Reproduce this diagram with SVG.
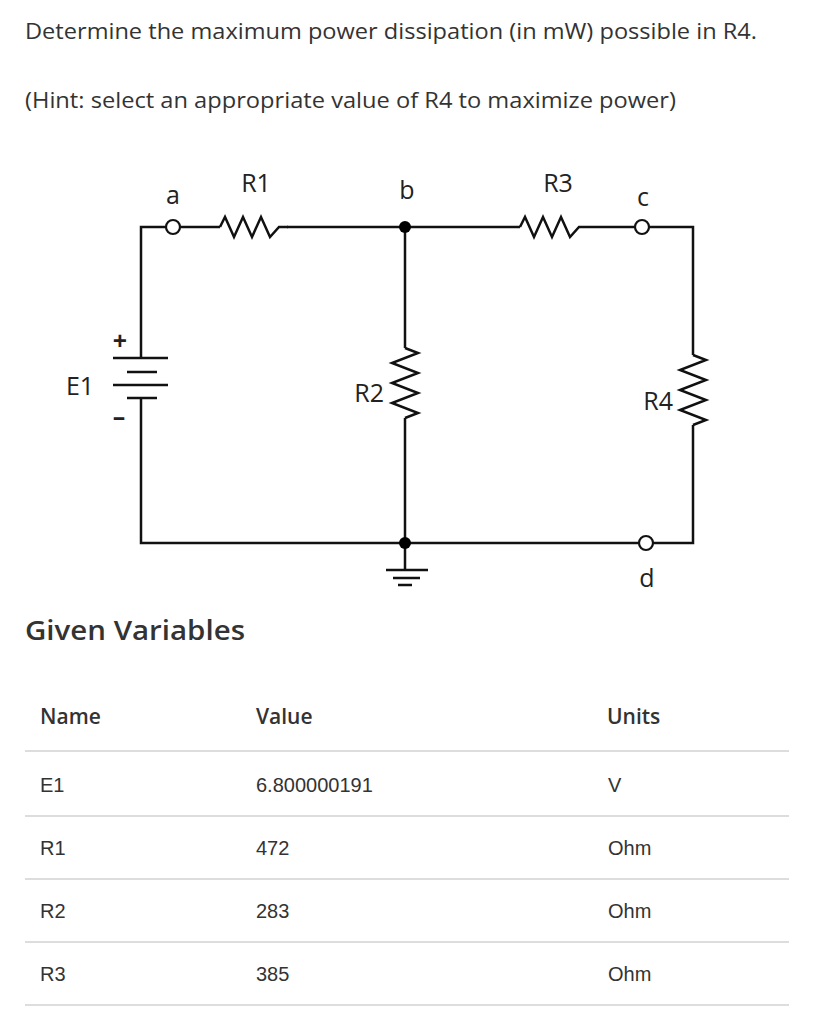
<svg xmlns="http://www.w3.org/2000/svg" width="815" height="1024" viewBox="0 0 815 1024">
<style>
.t{font-family:"Open Sans",sans-serif;fill:#333}
.c{font-family:"Open Sans",sans-serif;fill:#222;font-size:25px}
.w{stroke:#111;stroke-width:2.5;fill:none}
.h{font-family:"Open Sans",sans-serif;fill:#333;font-size:21px;font-weight:600}
.r{font-family:"Liberation Sans",Arial,sans-serif;fill:#333;font-size:20px}
.ln{stroke:#ddd;stroke-width:2}
.o{fill:#fff;stroke:#111;stroke-width:2.2}
</style>
<rect width="815" height="1024" fill="#fff"/>
<text class="t" x="25" y="39" font-size="21" textLength="732" lengthAdjust="spacingAndGlyphs">Determine the maximum power dissipation (in mW) possible in R4.</text>
<text class="t" x="25" y="108" font-size="21" textLength="651" lengthAdjust="spacingAndGlyphs">(Hint: select an appropriate value of R4 to maximize power)</text>
<g id="connectors">
<path class="w" d="M141,358 V227 H166 M180,227 H220 M287,227 H520 M585,227 H635 M649,227 H693 V355 M693,425 V543 H653 M639,543 H141 V398 M405,227 V348 M405,418 V543 V570"/>
</g>
<g id="R1"><path class="w" d="M220,227 l5,-10 l9,20 l9,-20 l9,20 l9,-20 l9,20 l9,-10 h9"/><text class="c" x="256" y="192" text-anchor="middle">R1</text></g>
<g id="R3"><path class="w" d="M520,227 l5,-10 l9,20 l9,-20 l9,20 l9,-20 l9,20 l9,-10 h6"/><text class="c" x="558" y="192" text-anchor="middle">R3</text></g>
<g id="R2"><path class="w" d="M405,348 l13,5 l-26,10 l26,10 l-26,10 l26,10 l-26,10 l26,10 l-13,5"/><text class="c" x="384" y="402" text-anchor="end">R2</text></g>
<g id="R4"><path class="w" d="M693,355 l13,5 l-26,10 l26,10 l-26,10 l26,10 l-26,10 l26,10 l-13,5"/><text class="c" x="673" y="410" text-anchor="end">R4</text></g>
<g id="E1">
<path class="w" d="M113,358 H168 M127,372 H157 M113,385 H168 M127,398 H157"/>
<text class="c" x="120" y="350" font-size="20" font-weight="700" text-anchor="middle">+</text>
<text class="c" x="119" y="425" font-size="20" font-weight="700" text-anchor="middle">–</text>
<text class="c" x="80" y="395" text-anchor="middle">E1</text>
</g>
<g id="a"><circle class="o" cx="173" cy="227" r="7"/><text class="c" x="173" y="204" text-anchor="middle">a</text></g>
<g id="b"><circle cx="405" cy="227" r="6" fill="#000"/><text class="c" x="407" y="199" text-anchor="middle">b</text></g>
<g id="c"><circle class="o" cx="642" cy="227" r="7"/><text class="c" x="643" y="206" text-anchor="middle">c</text></g>
<g id="d"><circle class="o" cx="646" cy="543" r="7"/><text class="c" x="647" y="587" text-anchor="middle">d</text></g>
<g id="gnd"><circle cx="405" cy="543" r="6" fill="#000"/><path class="w" d="M386,570 H428 M393,578 H420 M398,585 H412"/></g>
<text class="t" x="25" y="640" font-size="27" font-weight="600" textLength="220" lengthAdjust="spacingAndGlyphs">Given Variables</text>
<g id="table">
<text class="h" x="40" y="724">Name</text><text class="h" x="256" y="724">Value</text><text class="h" x="607" y="724">Units</text>
<line class="ln" x1="25" y1="751" x2="789" y2="751"/>
<text class="r" x="40" y="792">E1</text><text class="r" x="256" y="792">6.800000191</text><text class="r" x="608" y="792">V</text>
<line class="ln" x1="25" y1="816" x2="789" y2="816"/>
<text class="r" x="40" y="855">R1</text><text class="r" x="256" y="855">472</text><text class="r" x="608" y="855">Ohm</text>
<line class="ln" x1="25" y1="879" x2="789" y2="879"/>
<text class="r" x="40" y="918">R2</text><text class="r" x="256" y="918">283</text><text class="r" x="608" y="918">Ohm</text>
<line class="ln" x1="25" y1="942" x2="789" y2="942"/>
<text class="r" x="40" y="981">R3</text><text class="r" x="256" y="981">385</text><text class="r" x="608" y="981">Ohm</text>
<line class="ln" x1="25" y1="1005" x2="789" y2="1005"/>
</g>
</svg>
